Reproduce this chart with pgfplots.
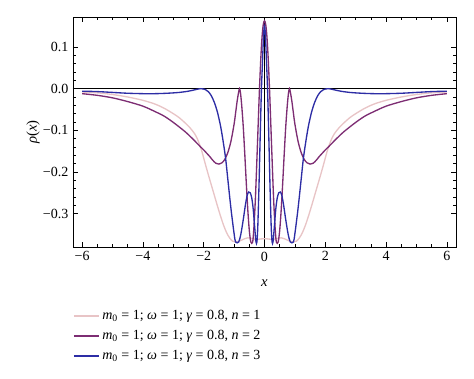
\documentclass[border=0pt]{standalone}
\usepackage{pgfplots}
\pgfplotsset{compat=1.18}
\usepackage{pgfplotstable}
\usepackage{fontspec}
\setmainfont{Liberation Serif}
\definecolor{c1}{RGB}{232,196,198}
\definecolor{c2}{RGB}{125,45,115}
\definecolor{c3}{RGB}{45,45,165}

\pgfplotstableread{
x y
-6.0 -0.008
-5.5 -0.010
-5.0 -0.014
-4.5 -0.020
-4.0 -0.028
-3.6 -0.037
-3.3 -0.047
-3.0 -0.060
-2.8 -0.070
-2.6 -0.083
-2.45 -0.094
-2.3 -0.108
-2.2 -0.122
-2.1 -0.141
-2.05 -0.153
-1.95 -0.180
-1.85 -0.206
-1.75 -0.231
-1.65 -0.256
-1.55 -0.281
-1.45 -0.305
-1.35 -0.327
-1.25 -0.345
-1.15 -0.358
-1.05 -0.366
-0.95 -0.368
-0.8 -0.365
-0.65 -0.360
-0.55 -0.358
-0.45 -0.359
-0.3 -0.362
-0.15 -0.361
0 -0.360
0.15 -0.361
0.3 -0.362
0.45 -0.359
0.55 -0.358
0.65 -0.360
0.8 -0.365
0.95 -0.368
1.05 -0.366
1.15 -0.358
1.25 -0.345
1.35 -0.327
1.45 -0.305
1.55 -0.281
1.65 -0.256
1.75 -0.231
1.85 -0.206
1.95 -0.180
2.05 -0.153
2.1 -0.141
2.2 -0.122
2.3 -0.108
2.45 -0.094
2.6 -0.083
2.8 -0.070
3.0 -0.060
3.3 -0.047
3.6 -0.037
4.0 -0.028
4.5 -0.020
5.0 -0.014
5.5 -0.010
6.0 -0.008
}\tabA

\pgfplotstableread{
x y
-6.0 -0.012
-5.5 -0.016
-5.0 -0.022
-4.5 -0.031
-4.0 -0.042
-3.6 -0.055
-3.3 -0.066
-3.0 -0.081
-2.6 -0.104
-2.3 -0.125
-2.1 -0.140
-2.0 -0.147
-1.9 -0.155
-1.8 -0.163
-1.7 -0.172
-1.6 -0.179
-1.5 -0.181
-1.4 -0.178
-1.3 -0.169
-1.2 -0.152
-1.1 -0.125
-1.0 -0.085
-0.95 -0.058
-0.9 -0.030
-0.85 -0.008
-0.82 0.0
-0.79 -0.010
-0.75 -0.040
-0.7 -0.090
-0.65 -0.155
-0.6 -0.225
-0.55 -0.290
-0.5 -0.340
-0.45 -0.368
-0.39 -0.368
-0.35 -0.335
-0.3 -0.265
-0.25 -0.170
-0.2 -0.070
-0.165 0.0
-0.12 0.075
-0.08 0.125
-0.04 0.154
0 0.163
0.04 0.154
0.08 0.125
0.12 0.075
0.165 0.0
0.2 -0.070
0.25 -0.170
0.3 -0.265
0.35 -0.335
0.39 -0.368
0.45 -0.368
0.5 -0.340
0.55 -0.290
0.6 -0.225
0.65 -0.155
0.7 -0.090
0.75 -0.040
0.79 -0.010
0.82 0.0
0.85 -0.008
0.9 -0.030
0.95 -0.058
1.0 -0.085
1.1 -0.125
1.2 -0.152
1.3 -0.169
1.4 -0.178
1.5 -0.181
1.6 -0.179
1.7 -0.172
1.8 -0.163
1.9 -0.155
2.0 -0.147
2.1 -0.140
2.3 -0.125
2.6 -0.104
3.0 -0.081
3.3 -0.066
3.6 -0.055
4.0 -0.042
4.5 -0.031
5.0 -0.022
5.5 -0.016
6.0 -0.012
}\tabB

\pgfplotstableread{
x y
-6.0 -0.006
-5.5 -0.007
-5.0 -0.009
-4.5 -0.011
-4.0 -0.012
-3.6 -0.012
-3.2 -0.011
-2.8 -0.009
-2.5 -0.006
-2.25 -0.002
-2.1 0.0
-1.95 -0.002
-1.85 -0.007
-1.75 -0.017
-1.65 -0.033
-1.55 -0.056
-1.45 -0.088
-1.37 -0.122
-1.28 -0.167
-1.2 -0.222
-1.1 -0.290
-1.0 -0.348
-0.95 -0.368
-0.85 -0.368
-0.78 -0.350
-0.7 -0.315
-0.63 -0.280
-0.57 -0.256
-0.52 -0.248
-0.47 -0.250
-0.42 -0.262
-0.37 -0.290
-0.32 -0.335
-0.28 -0.368
-0.25 -0.368
-0.22 -0.330
-0.18 -0.230
-0.14 -0.110
-0.1 0.0
-0.06 0.075
-0.03 0.130
0 0.150
0.03 0.130
0.06 0.075
0.1 0.0
0.14 -0.110
0.18 -0.230
0.22 -0.330
0.25 -0.368
0.28 -0.368
0.32 -0.335
0.37 -0.290
0.42 -0.262
0.47 -0.250
0.52 -0.248
0.57 -0.256
0.63 -0.280
0.7 -0.315
0.78 -0.350
0.85 -0.368
0.95 -0.368
1.0 -0.348
1.1 -0.290
1.2 -0.222
1.28 -0.167
1.37 -0.122
1.45 -0.088
1.55 -0.056
1.65 -0.033
1.75 -0.017
1.85 -0.007
1.95 -0.002
2.1 0.0
2.25 -0.002
2.5 -0.006
2.8 -0.009
3.2 -0.011
3.6 -0.012
4.0 -0.012
4.5 -0.011
5.0 -0.009
5.5 -0.007
6.0 -0.006
}\tabC

\begin{document}
\begin{tikzpicture}
\begin{axis}[
  name=ax,
  scale only axis, width=287.25pt, height=172.5pt,
  xmin=-6.3, xmax=6.3, ymin=-0.38, ymax=0.172,
  xtick={-6,-4,-2,0,2,4,6}, xticklabels={−6,−4,−2,0,2,4,6},
  ytick={-0.3,-0.2,-0.1,0,0.1}, yticklabels={−0.3,−0.2,−0.1,0.0,0.1},
  minor x tick num=3, minor y tick num=4,
  major tick length=4pt, minor tick length=2pt,
  tick style={black, line width=0.5pt},
  axis line style={line width=0.7pt},
  tick label style={font=\fontsize{10.5}{12}\selectfont},
  xlabel={\textit{x}}, ylabel={\textit{ρ}(\textit{x})},
  label style={font=\fontsize{11}{13}\selectfont},
  xlabel style={at={(axis description cs:0.5,-0.157)}, anchor=center},
  ylabel style={at={(axis description cs:-0.104,0.5)}, anchor=center},
  legend style={at={(axis description cs:0,-0.262)}, anchor=north west, draw=none, fill=none,
     inner sep=0pt, font=\fontsize{10.5}{12.5}\selectfont, row sep=2.6pt},
  legend cell align=left,
  legend image code/.code={\draw[#1] (0pt,0pt) -- (18.75pt,0pt);},
]
\addplot[black, line width=0.6pt, forget plot] coordinates {(-6.3,0) (6.3,0)};
\addplot[black, line width=0.6pt, forget plot] coordinates {(0,-0.38) (0,0.172)};
\addplot[c1, line width=1pt, smooth] table {\tabA};
\addlegendentry{{\textit{m}\textsubscript{0} = 1; \textit{ω} = 1; \textit{γ} = 0.8, \textit{n} = 1}}
\addplot[c2, line width=1pt, smooth] table {\tabB};
\addlegendentry{{\textit{m}\textsubscript{0} = 1; \textit{ω} = 1; \textit{γ} = 0.8, \textit{n} = 2}}
\addplot[c3, line width=1pt, smooth] table {\tabC};
\addlegendentry{{\textit{m}\textsubscript{0} = 1; \textit{ω} = 1; \textit{γ} = 0.8, \textit{n} = 3}}
\end{axis}
\path (ax.south west) ++(-54.75pt,-99pt) coordinate (bl);
\path (ax.north east) ++(13.5pt,12.75pt) coordinate (tr);
\path (bl) rectangle (tr);
\end{tikzpicture}
\end{document}
